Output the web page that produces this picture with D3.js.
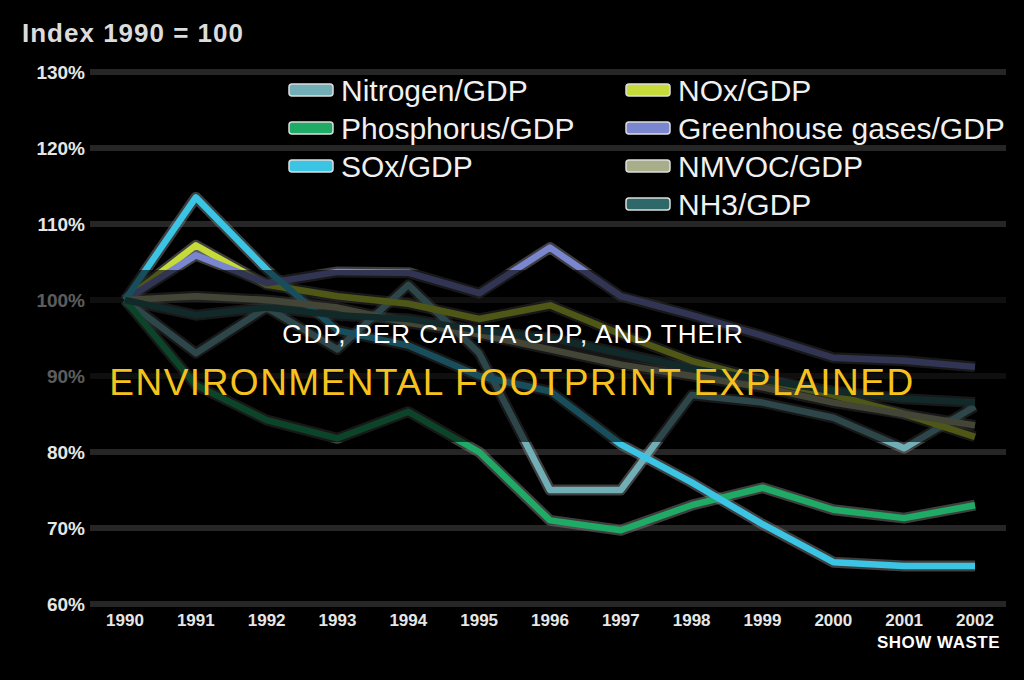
<!DOCTYPE html>
<html>

<head>
    <meta charset="UTF-8">
    <title>GDP, per capita GDP, and their environmental footprint</title>
    <style>
        body {
            margin: 0;
            background: #000;
            font-family: 'Liberation Sans', Arial, sans-serif;
        }

        .grid line {
            stroke: #262626;
            stroke-width: 6;
        }

        .ylab,
        .xlab {
            fill: #e6e6e6;
            font-weight: bold;
        }

        .legend text {
            fill: #f0f0f0;
            font-size: 30px;
        }
    </style>
</head>

<body>
    <script src="https://d3js.org/d3.v7.min.js"></script>
    <script>
        /// data

        var years = ["1990", "1991", "1992", "1993", "1994", "1995", "1996",
            "1997", "1998", "1999", "2000", "2001", "2002"];
        var yTicks = [60, 70, 80, 90, 100, 110, 120, 130];

        var nitrogen = [100, 93, 99, 93.5, 102, 93, 75, 75, 87.5, 86.5, 84.5, 80.5, 86];
        var nox = [100, 107.2, 102, 100.5, 99.5, 97.5, 99.3, 95.5, 92, 89.5, 87.5, 85, 82];
        var phosphorus = [100, 88.8, 84.2, 81.8, 85.3, 80, 71, 69.7, 73, 75.3, 72.4, 71.3, 73];
        var ghg = [100, 105.9, 102.2, 103.7, 103.6, 100.9, 106.9, 100.5, 98, 95.3, 92.4, 92, 91.2];
        var sox = [100, 113.5, 104, 96, 94, 90, 88, 81, 76, 70.5, 65.5, 65, 65];
        var nmvoc = [100, 100.5, 100, 99, 97, 95.5, 93.5, 91.5, 90, 88.5, 86.5, 85, 83.5];
        var nh3 = [100, 98, 99, 98, 97.5, 96, 95, 93, 91, 89.5, 88, 87, 86.5];

        var seriesNames = ["Nitrogen/GDP", "NOx/GDP", "Phosphorus/GDP", "Greenhouse gases/GDP",
            "SOx/GDP", "NMVOC/GDP", "NH3/GDP"];
        var seriesValues = [nitrogen, nox, phosphorus, ghg, sox, nmvoc, nh3];
        var seriesColors = ["#72aeb6", "#c6da3a", "#1faa66", "#7b86d0", "#3cc4e4", "#a9ae8a", "#2f6868"];

        /// main

        var width = 1024,
            height = 680;

        var svg = d3.select("body").append("svg")
            .attr("width", width)
            .attr("height", height);

        var x = d3.scalePoint().domain(years).range([125, 975]);
        var y = d3.scaleLinear().domain([60, 130]).range([604, 72]);

        // grid
        svg.append("g")
            .attr("class", "grid")
            .selectAll("line")
            .data(yTicks)
            .enter().append("line")
            .attr("x1", 90)
            .attr("x2", 1006)
            .attr("y1", function(d) { return y(d); })
            .attr("y2", function(d) { return y(d); });

        // y labels
        svg.append("g")
            .selectAll("text")
            .data(yTicks)
            .enter().append("text")
            .attr("class", "ylab")
            .attr("x", 85)
            .attr("y", function(d) { return y(d) + 7; })
            .attr("text-anchor", "end")
            .style("font-size", "19px")
            .text(function(d) { return d + "%"; });

        // x labels
        svg.append("g")
            .selectAll("text")
            .data(years)
            .enter().append("text")
            .attr("class", "xlab")
            .attr("x", function(d) { return x(d); })
            .attr("y", 626)
            .attr("text-anchor", "middle")
            .style("font-size", "17px")
            .text(function(d) { return d; });

        // lines
        var line = d3.line()
            .x(function(d, i) { return x(years[i]); })
            .y(function(d) { return y(d); });

        var lines = svg.append("g")
            .attr("fill", "none")
            .attr("stroke-linejoin", "round");

        // soft grey halo under each series
        lines.selectAll("path.halo")
            .data(seriesValues)
            .enter().append("path")
            .attr("class", "halo")
            .attr("d", line)
            .attr("stroke", "#8a8a8a")
            .attr("stroke-opacity", 0.45)
            .attr("stroke-width", 11);

        lines.selectAll("path.series")
            .data(seriesValues)
            .enter().append("path")
            .attr("class", "series")
            .attr("d", line)
            .attr("stroke", function(d, i) { return seriesColors[i]; })
            .attr("stroke-width", 6.5);

        // legend (two columns)
        var legendPos = [[289, 90], [626, 90], [289, 128], [626, 128], [289, 166], [626, 166], [626, 204]];

        var legend = svg.append("g")
            .attr("class", "legend")
            .selectAll("g")
            .data(seriesNames)
            .enter().append("g")
            .attr("transform", function(d, i) {
                return "translate(" + legendPos[i][0] + "," + legendPos[i][1] + ")";
            });

        legend.append("rect")
            .attr("x", 0)
            .attr("y", -6)
            .attr("width", 44)
            .attr("height", 12)
            .attr("rx", 3)
            .attr("fill", function(d, i) { return seriesColors[i]; })
            .attr("stroke", "#dddddd")
            .attr("stroke-width", 1.5);

        legend.append("text")
            .attr("x", 52)
            .attr("y", 11)
            .text(function(d) { return d; });

        // axis title
        svg.append("text")
            .attr("x", 22)
            .attr("y", 42)
            .attr("fill", "#dcdcdc")
            .style("font-size", "26px")
            .style("font-weight", "bold")
            .style("letter-spacing", "1px")
            .text("Index 1990 = 100");

        // dark banner across the middle
        svg.append("rect")
            .attr("x", 0)
            .attr("y", 270)
            .attr("width", width)
            .attr("height", 172)
            .attr("fill", "#000")
            .attr("fill-opacity", 0.6);

        svg.append("text")
            .attr("x", 513)
            .attr("y", 343)
            .attr("text-anchor", "middle")
            .attr("fill", "#ffffff")
            .style("font-size", "26px")
            .style("letter-spacing", "1px")
            .text("GDP, PER CAPITA GDP, AND THEIR");

        svg.append("text")
            .attr("x", 512)
            .attr("y", 395)
            .attr("text-anchor", "middle")
            .attr("fill", "#f6c21e")
            .style("font-size", "37px")
            .style("letter-spacing", "1.5px")
            .text("ENVIRONMENTAL FOOTPRINT EXPLAINED");

        // watermark
        svg.append("text")
            .attr("x", 1000)
            .attr("y", 648)
            .attr("text-anchor", "end")
            .attr("fill", "#ffffff")
            .style("font-size", "17px")
            .style("font-weight", "bold")
            .style("letter-spacing", "0.5px")
            .text("SHOW WASTE");
    </script>
</body>

</html>
